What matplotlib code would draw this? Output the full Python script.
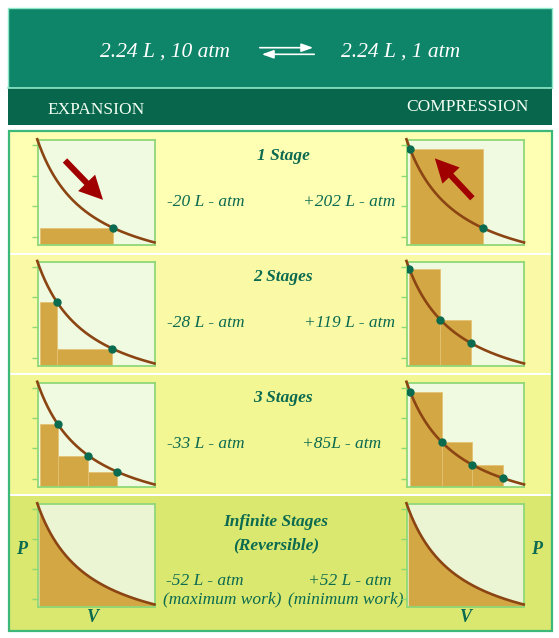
import matplotlib
matplotlib.use("Agg")
import matplotlib.pyplot as plt
from matplotlib.patches import Rectangle
import numpy as np

# schematic P-V isotherm used in every small panel (P * V = const)
V_RANGE = [1.0, 3.3]
P_RANGE = [1.0, 3.5]
PV_CONST = 3.5
P_TICKS = [1.2, 1.925, 2.65, 3.375]

# volumes of the states marked on each panel
exp_1 = [1.05, 2.49]
exp_2 = [1.05, 1.386, 2.472]
exp_3 = [1.05, 1.40, 2.0, 2.57]
comp_1 = [1.065, 2.49]
comp_2 = [1.053, 1.658, 2.263]
comp_3 = [1.07, 1.69, 2.29, 2.89]
rev_span = [1.03, 3.28]

stage_titles = ["1 Stage", "2 Stages", "3 Stages"]
exp_work = ["-20 L - atm", "-28 L - atm", "-33 L - atm", "-52 L - atm"]
comp_work = ["+202 L - atm", "+119 L - atm", "+85L - atm", "+52 L - atm"]

W, H = 559, 638
SERIF = ["Liberation Serif", "DejaVu Serif"]
TEAL = "#0e8468"
DARK = "#08664c"
TXT = "#0b6a50"
TAN = "#d4a745"
BROWN = "#8b4513"
DOT = "#0b6b4e"
SPINE = "#8fd877"

fig = plt.figure(figsize=(W / 100, H / 100), dpi=100)
bg = fig.add_axes([0, 0, 1, 1])
bg.set_xlim(0, W)
bg.set_ylim(H, 0)
bg.axis("off")

# header
bg.add_patch(Rectangle((7.5, 7.5), 544, 80, facecolor=TEAL, edgecolor="#8ee8c8", lw=1))
bg.add_patch(Rectangle((7.5, 88), 544, 37, facecolor=DARK, edgecolor="none"))
bg.plot([8, 551], [87.5, 87.5], color="#8ee8c8", lw=1.2)
bg.text(164.5, 52, "2.24 L , 10 atm", color="white", fontsize=15.5, style="italic",
        family=SERIF, ha="center", va="center")
bg.text(401, 52, "2.24 L , 1 atm", color="white", fontsize=15.5, style="italic",
        family=SERIF, ha="center", va="center")
bg.annotate("", xy=(316, 47.7), xytext=(257, 47.7),
            arrowprops=dict(arrowstyle="-|>,head_length=0.7,head_width=0.25", color="white", lw=1.2))
bg.annotate("", xy=(259, 54.3), xytext=(317, 54.3),
            arrowprops=dict(arrowstyle="-|>,head_length=0.7,head_width=0.25", color="white", lw=1.2))
bg.text(96, 110, "EXPANSION", color="#f2fff2", fontsize=12.5, family=SERIF,
        ha="center", va="center")
bg.text(467, 107, "COMPRESSION", color="#f2fff2", fontsize=12.5, family=SERIF,
        ha="center", va="center")

# row backgrounds
row_bands = [(131, 252.5), (254.5, 373), (375, 494), (496, 630)]
row_colors = ["#ffffb4", "#fafaa6", "#f2f693", "#dae86f"]
for (y0, y1), c in zip(row_bands, row_colors):
    bg.add_patch(Rectangle((9, y0), 542, y1 - y0, facecolor=c, edgecolor="none"))
bg.add_patch(Rectangle((8.5, 130.5), 543, 500.5, facecolor="none", edgecolor="#3cb878", lw=1.6))

# text in the middle column
stage_y = [156, 277, 398]
work_y = [202, 323, 444]
for t, y in zip(stage_titles, stage_y):
    bg.text(283, y, t, color=TXT, fontsize=12.5, style="italic", weight="bold",
            family=SERIF, ha="center", va="center")
comp_x = [349, 349, 342]
for i in range(3):
    bg.text(206, work_y[i], exp_work[i], color=TXT, fontsize=12.5, style="italic",
            family=SERIF, ha="center", va="center")
    bg.text(comp_x[i], work_y[i], comp_work[i], color=TXT, fontsize=12.5, style="italic",
            family=SERIF, ha="center", va="center")
bg.text(276, 522, "Infinite Stages", color=TXT, fontsize=12.5, style="italic", weight="bold",
        family=SERIF, ha="center", va="center")
bg.text(276, 545, "(Reversible)", color=TXT, fontsize=12.5, style="italic", weight="bold",
        family=SERIF, ha="center", va="center")
bg.text(205, 581, exp_work[3], color=TXT, fontsize=12.5, style="italic",
        family=SERIF, ha="center", va="center")
bg.text(222, 599, "(maximum work)", color=TXT, fontsize=12.5, style="italic",
        family=SERIF, ha="center", va="center")
bg.text(350, 581, comp_work[3], color=TXT, fontsize=12.5, style="italic",
        family=SERIF, ha="center", va="center")
bg.text(346, 599, "(minimum work)", color=TXT, fontsize=12.5, style="italic",
        family=SERIF, ha="center", va="center")
for x, y, s in [(22, 550, "P"), (93, 618, "V"), (537, 550, "P"), (466, 618, "V")]:
    bg.text(x, y, s, color=TXT, fontsize=13, style="italic", weight="bold",
            family=SERIF, ha="center", va="center")


def panel(x0, y0, x1, y1, face="#f0fae1"):
    ax = fig.add_axes([x0 / W, 1 - y1 / H, (x1 - x0) / W, (y1 - y0) / H])
    ax.set_facecolor(face)
    ax.set_xlim(V_RANGE)
    ax.set_ylim(P_RANGE)
    ax.set_xticks([])
    ax.set_yticks(P_TICKS)
    ax.set_yticklabels([])
    ax.tick_params(axis="y", length=4.5, width=1, color=SPINE)
    for s in ax.spines.values():
        s.set_color(SPINE)
        s.set_linewidth(1.3)
    vc = np.linspace(V_RANGE[0] - 0.005, V_RANGE[1], 300)
    ax.plot(vc, PV_CONST / vc, color=BROWN, lw=1.9, zorder=4, clip_on=False)
    return ax


def pressure(v):
    return PV_CONST / np.asarray(v)


def expansion(ax, vols):
    v = np.array(vols)
    p = pressure(v[1:])
    ax.bar(v[:-1], p - P_RANGE[0], width=np.diff(v), bottom=P_RANGE[0], align="edge",
           color=TAN, edgecolor="#e4c273", lw=0.6, zorder=2)
    ax.plot(v[1:], p, "o", color=DOT, ms=5, zorder=5)


def compression(ax, vols):
    v = np.array(vols)
    p = pressure(v[:-1])
    ax.bar(v[:-1], p - P_RANGE[0], width=np.diff(v), bottom=P_RANGE[0], align="edge",
           color=TAN, edgecolor="#e4c273", lw=0.6, zorder=2)
    ax.plot(v, pressure(v), "o", color=DOT, ms=5, zorder=5)


rows_y = [(140, 245), (261.7, 366), (382.5, 487)]
exps = [exp_1, exp_2, exp_3]
comps = [comp_1, comp_2, comp_3]
for i, (y0, y1) in enumerate(rows_y):
    axl = panel(37.5, y0, 154.5, y1)
    expansion(axl, exps[i])
    axr = panel(406.7, y0, 524, y1)
    compression(axr, comps[i])
    if i == 0:
        arrow = dict(arrowstyle="simple,head_length=0.85,head_width=0.85,tail_width=0.22",
                     color="#a00000", lw=0, shrinkA=0, shrinkB=0, mutation_scale=20)
        axl.annotate("", xy=(0.56, 0.43), xytext=(0.235, 0.805), xycoords="axes fraction",
                     textcoords="axes fraction", arrowprops=arrow)
        axr.annotate("", xy=(0.24, 0.825), xytext=(0.56, 0.445), xycoords="axes fraction",
                     textcoords="axes fraction", arrowprops=arrow)

# reversible row: area under the whole isotherm
for x0 in (37.5, 406.7):
    ax = panel(x0, 504, x0 + 117, 607, face="#ebf5d3")
    vf = np.linspace(rev_span[0], rev_span[1], 200)
    ax.fill_between(vf, P_RANGE[0], pressure(vf), color=TAN, lw=0, zorder=2)

fig.savefig("out.png", dpi=100)
